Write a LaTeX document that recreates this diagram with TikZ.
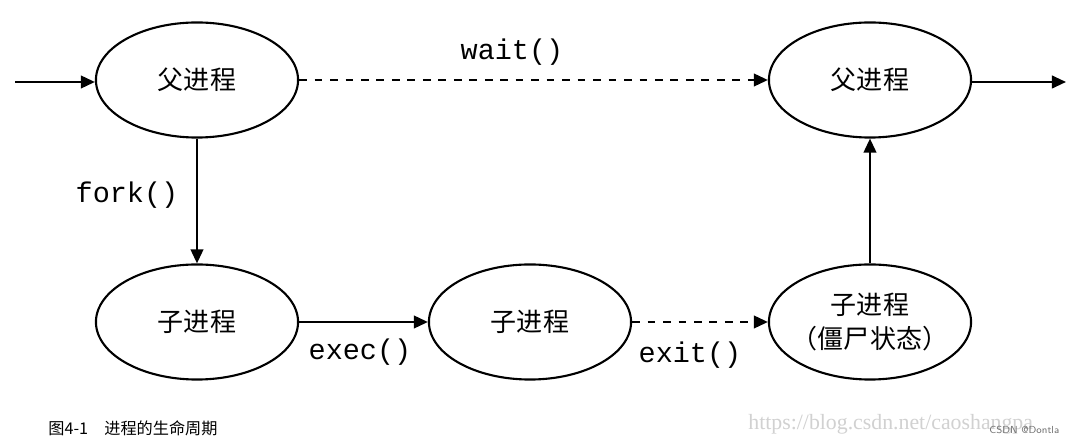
\documentclass[tikz,border=0pt]{standalone}
\usepackage{fontspec}
\setmainfont{Liberation Serif}
\setmonofont{Liberation Mono}
\newfontfamily\cjk{Noto Sans CJK SC}
\usetikzlibrary{arrows.meta,shapes.geometric}
\tikzset{
  proc/.style={draw,line width=0.6pt,ellipse,minimum width=2.02cm,minimum height=1.15cm,inner sep=0pt,font=\cjk\fontsize{7.4}{9.5}\selectfont,align=center},
  conn/.style={line width=0.6pt,-{Triangle[length=4pt,width=3.6pt]}},
  dconn/.style={conn,dash pattern=on 2.2pt off 2.2pt},
  code/.style={font=\ttfamily\fontsize{8.1}{9}\selectfont}
}
\begin{document}
\begin{tikzpicture}[x=0.01cm,y=-0.01cm]
\useasboundingbox[fill=white] (0,0) rectangle (1072,443);
\node[proc] (p1) at (197,80) {父进程};
\node[proc] (p2) at (870,80) {父进程};
\node[proc] (c1) at (197,322) {子进程};
\node[proc] (c2) at (530,322) {子进程};
\node[proc,inner xsep=-9pt] (z) at (870,322) {子进程\\（僵尸状态）};
\coordinate (in) at (15,82);
\coordinate (out) at (1066,82);
\draw[conn] (in) -- (p1.west|-in);
\draw[conn] (p2.east|-out) -- (out);
\draw[dconn] (p1.east) -- (p2.west);
\draw[conn] (p1.south) -- (c1.north);
\draw[conn] (c1.east) -- (c2.west);
\draw[dconn] (c2.east) -- (z.west);
\draw[conn] (z.north) -- (p2.south);
\node[code] (lw) at (512,52) {wait()};
\node[code] (lf) at (127,195) {fork()};
\node[code] (le) at (360,352) {exec()};
\node[code] (lx) at (690,355) {exit()};
\node[anchor=west,font=\cjk\fontsize{4.6}{6}\selectfont] (cap) at (36,428) {图4-1\quad 进程的生命周期};
\node[anchor=west,text=black!18,font=\fontsize{6.2}{7}\selectfont] (wm) at (736,424) {https://blog.csdn.net/caoshangpa};
\node[anchor=west,text=black!55,font=\sffamily\fontsize{2.9}{4}\selectfont] (wm2) at (977,430) {CSDN @Dontla};
\end{tikzpicture}
\end{document}
